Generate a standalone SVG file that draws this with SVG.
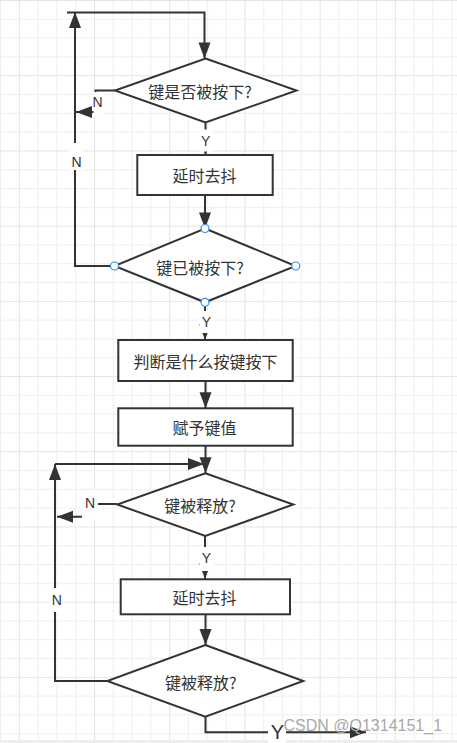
<svg xmlns="http://www.w3.org/2000/svg" width="457" height="743" viewBox="0 0 457 743">
<defs>
<pattern id="grid" patternUnits="userSpaceOnUse" x="0" y="0" width="75.2" height="75.2">
<rect x="0" y="0" width="75.2" height="75.2" fill="#ffffff"/>
<rect x="0" y="0" width="1" height="75.2" fill="#efefef"/>
<rect x="37.6" y="0" width="1" height="75.2" fill="#efefef"/>
<rect x="56.4" y="0" width="1" height="75.2" fill="#efefef"/>
<rect x="18.8" y="0" width="1" height="75.2" fill="#e4e4e4"/>
<rect x="0" y="18.8" width="75.2" height="1" fill="#efefef"/>
<rect x="0" y="37.6" width="75.2" height="1" fill="#efefef"/>
<rect x="0" y="56.4" width="75.2" height="1" fill="#efefef"/>
<rect x="0" y="0" width="75.2" height="1" fill="#e4e4e4"/>
</pattern>
<marker id="arr" markerUnits="userSpaceOnUse" markerWidth="16" markerHeight="12" refX="16" refY="6" orient="auto" overflow="visible">
<path d="M0,0 L16,6 L0,12 Z" fill="#333333"/>
</marker>
</defs>
<style>
.shape{fill:#ffffff;stroke:#333333;stroke-width:2}
.cjk{font-family:"Noto Sans CJK SC","Noto Sans",sans-serif;font-size:16px;fill:#333333;text-anchor:middle;dominant-baseline:central}
.lbl{font-family:"Liberation Sans",Arial,sans-serif;font-size:14px;fill:#333333;text-anchor:middle}
.bg{fill:#ffffff}
.line{fill:none;stroke:#333333;stroke-width:2}
.pt{fill:#ffffff;stroke:#2f8ef0;stroke-width:1.2}
</style>
<rect x="0" y="0" width="457" height="743" fill="url(#grid)"/>
<rect x="0" y="740" width="457" height="3" fill="#eeeeee"/>

<g id="connectors">
<path class="line" d="M67,12.5 H204.5 V58.5" marker-end="url(#arr)"/>
<path class="line" d="M114.5,266 H75 V12" marker-end="url(#arr)"/>
<path class="line" d="M115,90.5 H95.5 V112 H76" marker-end="url(#arr)"/>
<path class="line" d="M205.5,122.5 V155" marker-end="url(#arr)"/>
<path class="line" d="M205,195 V228.5" marker-end="url(#arr)"/>
<path class="line" d="M205,302.3 V340" marker-end="url(#arr)"/>
<path class="line" d="M205.5,381 V408.3" marker-end="url(#arr)"/>
<path class="line" d="M205.5,446 V473.3" marker-end="url(#arr)"/>
<path class="line" d="M107.3,681 H55 V464" marker-end="url(#arr)"/>
<path class="line" d="M55,464 H204" marker-end="url(#arr)"/>
<path class="line" d="M117.3,504 H90 V516.7 H57" marker-end="url(#arr)"/>
<path class="line" d="M205,536 V579" marker-end="url(#arr)"/>
<path class="line" d="M205.5,614.3 V645" marker-end="url(#arr)"/>
<path class="line" d="M205.5,716.7 V732.3 H366" marker-end="url(#arr)"/>

<rect class="bg" x="93.5" y="92" width="10" height="25"/>
<text class="lbl" x="97.5" y="107">N</text>
<rect class="bg" x="69" y="143" width="14" height="27"/>
<text class="lbl" x="76.5" y="166.5">N</text>
<rect class="bg" x="199" y="129.5" width="14" height="22"/>
<text class="lbl" x="205.7" y="145.5">Y</text>
<rect class="bg" x="199.5" y="311" width="14" height="22"/>
<text class="lbl" x="206.5" y="327">Y</text>
<rect class="bg" x="82" y="490" width="16" height="29"/>
<text class="lbl" x="90" y="507.7">N</text>
<rect class="bg" x="199.5" y="547" width="14" height="24"/>
<text class="lbl" x="206.5" y="563">Y</text>
<rect class="bg" x="49.5" y="588" width="14" height="24"/>
<text class="lbl" x="56.7" y="605">N</text>
<rect class="bg" x="268" y="722" width="18" height="21"/>
<text class="lbl" x="277.3" y="739.3" style="font-size:20px">Y</text>
</g>

<g id="d1">
<polygon class="shape" points="205.5,58.5 296.5,90.5 205.5,122.5 115,90.5"/>
<text class="cjk" x="200" y="91">键是否被按下?</text>
</g>
<g id="r1">
<rect class="shape" x="137.3" y="155" width="135.4" height="40"/>
<text class="cjk" x="204.5" y="175">延时去抖</text>
</g>
<g id="d2">
<polygon class="shape" points="205,228.5 295.7,266 205,302.3 114.5,266"/>
<text class="cjk" x="200" y="266.5">键已被按下?</text>
<circle class="pt" cx="205" cy="228.5" r="4"/>
<circle class="pt" cx="295.7" cy="266" r="4"/>
<circle class="pt" cx="205" cy="302.3" r="4"/>
<circle class="pt" cx="114.5" cy="266" r="4"/>
</g>
<g id="r2">
<rect class="shape" x="118.3" y="340" width="174.4" height="41"/>
<text class="cjk" x="205.5" y="360.5">判断是什么按键按下</text>
</g>
<g id="r3">
<rect class="shape" x="118.3" y="408.3" width="174.4" height="37.4"/>
<text class="cjk" x="204.5" y="427">赋予键值</text>
</g>
<g id="d3">
<polygon class="shape" points="205.3,473.3 293.3,504.5 205.3,536 117.3,504.5"/>
<text class="cjk" x="200" y="505">键被释放?</text>
</g>
<g id="r4">
<rect class="shape" x="120.7" y="579.3" width="169.3" height="35"/>
<text class="cjk" x="204.5" y="597">延时去抖</text>
</g>
<g id="d4">
<polygon class="shape" points="205.3,645 303.3,681 205.3,716.7 107.3,681"/>
<text class="cjk" x="200.7" y="681.5">键被释放?</text>
</g>

<text x="283.5" y="731" style="font-family:'Liberation Sans',Arial,sans-serif;font-size:16px;fill:#a8a8a8">CSDN @Q1314151_1</text>
</svg>
